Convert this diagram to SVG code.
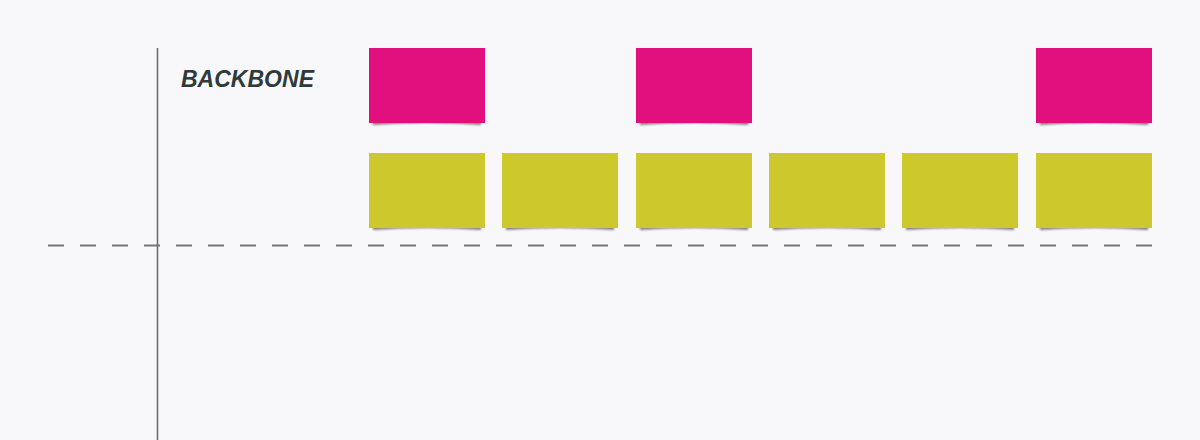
<svg xmlns="http://www.w3.org/2000/svg" width="1200" height="440" viewBox="0 0 1200 440">
<defs>
<filter id="sh" x="-10%" y="-50%" width="120%" height="200%"><feGaussianBlur stdDeviation="1.2"/></filter>
<style>
.pink{fill:#e1107e}
.yel{fill:#cdc82c}
.shadow{fill:#555;opacity:0.75;filter:url(#sh)}
.lbl{font-family:"Liberation Sans",Arial,sans-serif;font-weight:bold;font-style:italic;font-size:23px;fill:#2f3a3a}
</style>
<g id="card">
<path class="shadow" d="M4,72 L112,72 L112,77 Q58,73 4,77 Z"/>
</g>
</defs>
<rect width="1200" height="440" fill="#f8f8fa"/>
<g id="connectors">
<line x1="157.5" y1="48" x2="157.5" y2="440" stroke="#666" stroke-width="1.5"/>
<line x1="48" y1="245.5" x2="1152" y2="245.5" stroke="#777" stroke-width="2" stroke-dasharray="16 16"/>
</g>
<g id="label"><text class="lbl" x="181" y="87" textLength="133" lengthAdjust="spacingAndGlyphs">BACKBONE</text></g>
<g id="backbone1"><use href="#card" x="369" y="48"/><rect class="pink" x="369" y="48" width="116" height="75"/></g>
<g id="backbone2"><use href="#card" x="636" y="48"/><rect class="pink" x="636" y="48" width="116" height="75"/></g>
<g id="backbone3"><use href="#card" x="1036" y="48"/><rect class="pink" x="1036" y="48" width="116" height="75"/></g>
<g id="story1"><use href="#card" x="369" y="153"/><rect class="yel" x="369" y="153" width="116" height="75"/></g>
<g id="story2"><use href="#card" x="502" y="153"/><rect class="yel" x="502" y="153" width="116" height="75"/></g>
<g id="story3"><use href="#card" x="636" y="153"/><rect class="yel" x="636" y="153" width="116" height="75"/></g>
<g id="story4"><use href="#card" x="769" y="153"/><rect class="yel" x="769" y="153" width="116" height="75"/></g>
<g id="story5"><use href="#card" x="902" y="153"/><rect class="yel" x="902" y="153" width="116" height="75"/></g>
<g id="story6"><use href="#card" x="1036" y="153"/><rect class="yel" x="1036" y="153" width="116" height="75"/></g>
</svg>
